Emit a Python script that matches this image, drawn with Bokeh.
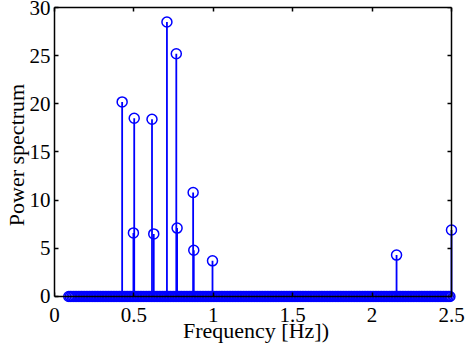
import numpy as np
from bokeh.plotting import figure
from bokeh.models import Range1d, LinearAxis, FixedTicker, ColumnDataSource
from bokeh.embed import file_html
from bokeh.resources import INLINE

# ---- data ----
peak_freq = [0.426, 0.497, 0.502, 0.614, 0.625, 0.708, 0.767, 0.772, 0.873, 0.877, 0.995, 2.154, 2.500]
peak_power = [20.2, 6.6, 18.5, 18.4, 6.5, 28.5, 25.2, 7.1, 10.8, 4.8, 3.7, 4.3, 6.9]

# frequency bins with zero power (dense grid from 0.09 Hz to 2.5 Hz)
zero_freq = [round(f, 3) for f in np.arange(0.09, 2.4951, 0.01)]
zero_power = [0.0] * len(zero_freq)

x_ticks = [0, 0.5, 1, 1.5, 2, 2.5]
x_tick_labels = ["0", "0.5", "1", "1.5", "2", "2.5"]
y_ticks = [0, 5, 10, 15, 20, 25, 30]
y_tick_labels = ["0", "5", "10", "15", "20", "25", "30"]

x_label = "Frequency [Hz])"
y_label = "Power spectrum"

BLUE = "#0000ff"
FONT = "Liberation Serif"

p = figure(width=474, height=355,
           x_range=Range1d(0, 2.5 + 6 / 158.8),
           y_range=Range1d(-6 / 9.633, 30),
           output_backend="svg", toolbar_location=None,
           min_border_left=54, min_border_right=17,
           min_border_top=7, min_border_bottom=53)
p.grid.visible = False
p.outline_line_color = None
p.background_fill_color = "white"
p.border_fill_color = "white"

src_peaks = ColumnDataSource(dict(f=peak_freq, pw=peak_power))
src_zero = ColumnDataSource(dict(f=zero_freq, pw=zero_power))

p.segment(x0="f", y0=0, x1="f", y1="pw", source=src_peaks, line_color=BLUE, line_width=1.8)
p.scatter(x="f", y="pw", source=src_zero, marker="circle", size=10,
          fill_color=None, line_color=BLUE, line_width=1.5)
p.scatter(x="f", y="pw", source=src_peaks, marker="circle", size=10,
          fill_color=None, line_color=BLUE, line_width=1.5)


def frame_axis(ax, ticks, bounds):
    """axis used only as a box edge with inward ticks, no labels"""
    ax.ticker = FixedTicker(ticks=ticks)
    ax.bounds = bounds
    ax.minor_tick_line_color = None
    ax.major_tick_in = 4
    ax.major_tick_out = 0
    ax.axis_line_width = 1.5
    ax.major_tick_line_width = 1.5
    ax.axis_line_color = "black"
    ax.major_tick_line_color = "black"
    ax.major_label_text_font_size = "0px"
    ax.major_label_text_color = None
    ax.major_label_standoff = 0


# bottom axis in the panel: tick labels and axis title only
xa = p.xaxis[0]
xa.ticker = FixedTicker(ticks=x_ticks)
xa.major_label_overrides = {t: l for t, l in zip(x_ticks, x_tick_labels)}
xa.axis_line_color = None
xa.major_tick_line_color = None
xa.minor_tick_line_color = None
xa.major_label_text_font = FONT
xa.major_label_text_font_size = "21px"
xa.major_label_text_color = "black"
xa.major_label_standoff = -1
xa.axis_label = x_label
xa.axis_label_text_font = FONT
xa.axis_label_text_font_size = "22px"
xa.axis_label_text_font_style = "normal"
xa.axis_label_text_color = "black"
xa.axis_label_standoff = -7

# left axis
ya = p.yaxis[0]
ya.ticker = FixedTicker(ticks=y_ticks)
ya.major_label_overrides = {t: l for t, l in zip(y_ticks, y_tick_labels)}
ya.bounds = (0, 30)
ya.minor_tick_line_color = None
ya.major_tick_in = 4
ya.major_tick_out = 0
ya.axis_line_width = 1.5
ya.major_tick_line_width = 1.5
ya.axis_line_color = "black"
ya.major_tick_line_color = "black"
ya.major_label_text_font = FONT
ya.major_label_text_font_size = "21px"
ya.major_label_text_color = "black"
ya.major_label_standoff = 4
ya.axis_label = y_label
ya.axis_label_text_font = FONT
ya.axis_label_text_font_size = "22px"
ya.axis_label_text_font_style = "normal"
ya.axis_label_text_color = "black"
ya.axis_label_standoff = -2

# box edges: bottom at y=0, top at y=30, right at x=2.5
bottom_line = LinearAxis(fixed_location=0)
frame_axis(bottom_line, x_ticks, (0, 2.5))
p.add_layout(bottom_line, "below")

top = LinearAxis()
frame_axis(top, x_ticks, (0, 2.5))
p.add_layout(top, "above")

right = LinearAxis(fixed_location=2.5)
frame_axis(right, y_ticks, (0, 30))
p.add_layout(right, "right")

open("out.html", "w").write(file_html(p, INLINE))
